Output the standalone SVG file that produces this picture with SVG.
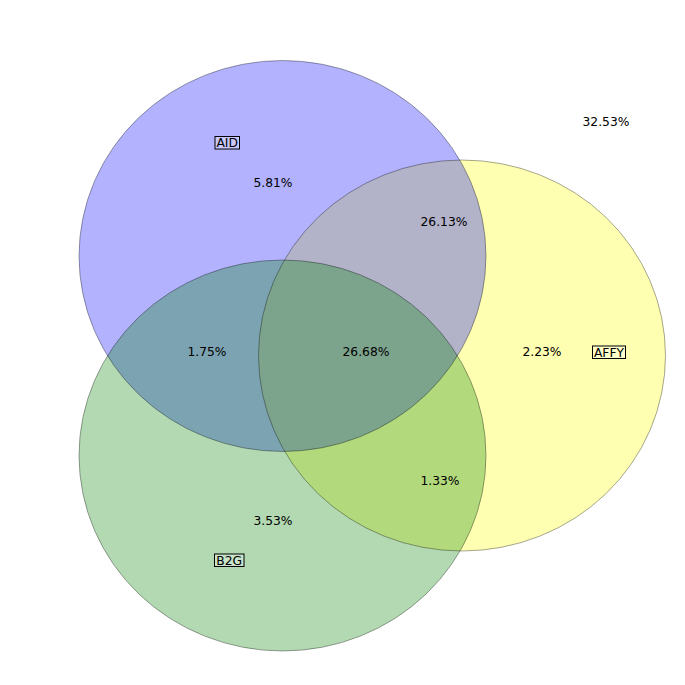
<svg xmlns="http://www.w3.org/2000/svg" width="685" height="685" viewBox="0 0 685 685">
<style>
.c{stroke:none;fill-opacity:0.3}
.o{fill:none;stroke:#000;stroke-opacity:0.35;stroke-width:1}
.t{font-family:"DejaVu Sans",sans-serif;font-size:12.3px;fill:#000;text-anchor:middle}
.b{fill:#fff;fill-opacity:0.3;stroke:#000;stroke-width:1}
</style>
<rect width="685" height="685" fill="#fff"/>
<g id="sets">
<ellipse id="affy-fill" class="c" cx="462" cy="355.5" rx="203.5" ry="195.5" fill="#ffff00"/>
<ellipse id="aid-fill" class="c" cx="282.5" cy="256" rx="203.5" ry="195.5" fill="#0000ff"/>
<ellipse id="b2g-fill" class="c" cx="282.5" cy="455.5" rx="203.5" ry="195.5" fill="#008000"/>
<ellipse class="o" cx="462" cy="355.5" rx="203.5" ry="195.5"/>
<ellipse class="o" cx="282.5" cy="256" rx="203.5" ry="195.5"/>
<ellipse class="o" cx="282.5" cy="455.5" rx="203.5" ry="195.5"/>
</g>
<g id="region-labels">
<text class="t" x="273" y="187">5.81%</text>
<text class="t" x="606" y="126">32.53%</text>
<text class="t" x="444" y="226">26.13%</text>
<text class="t" x="207" y="356">1.75%</text>
<text class="t" x="366" y="356">26.68%</text>
<text class="t" x="542" y="356">2.23%</text>
<text class="t" x="440" y="485">1.33%</text>
<text class="t" x="273" y="525">3.53%</text>
</g>
<g id="aid">
<rect class="b" x="215" y="136.5" width="24.5" height="12.5"/>
<text class="t" x="227.2" y="147">AID</text>
</g>
<g id="affy">
<rect class="b" x="592.5" y="346" width="33" height="12.5"/>
<text class="t" x="609" y="356.5">AFFY</text>
</g>
<g id="b2g">
<rect class="b" x="214.5" y="554" width="29.5" height="12.5"/>
<text class="t" x="229.2" y="564.5">B2G</text>
</g>
</svg>
